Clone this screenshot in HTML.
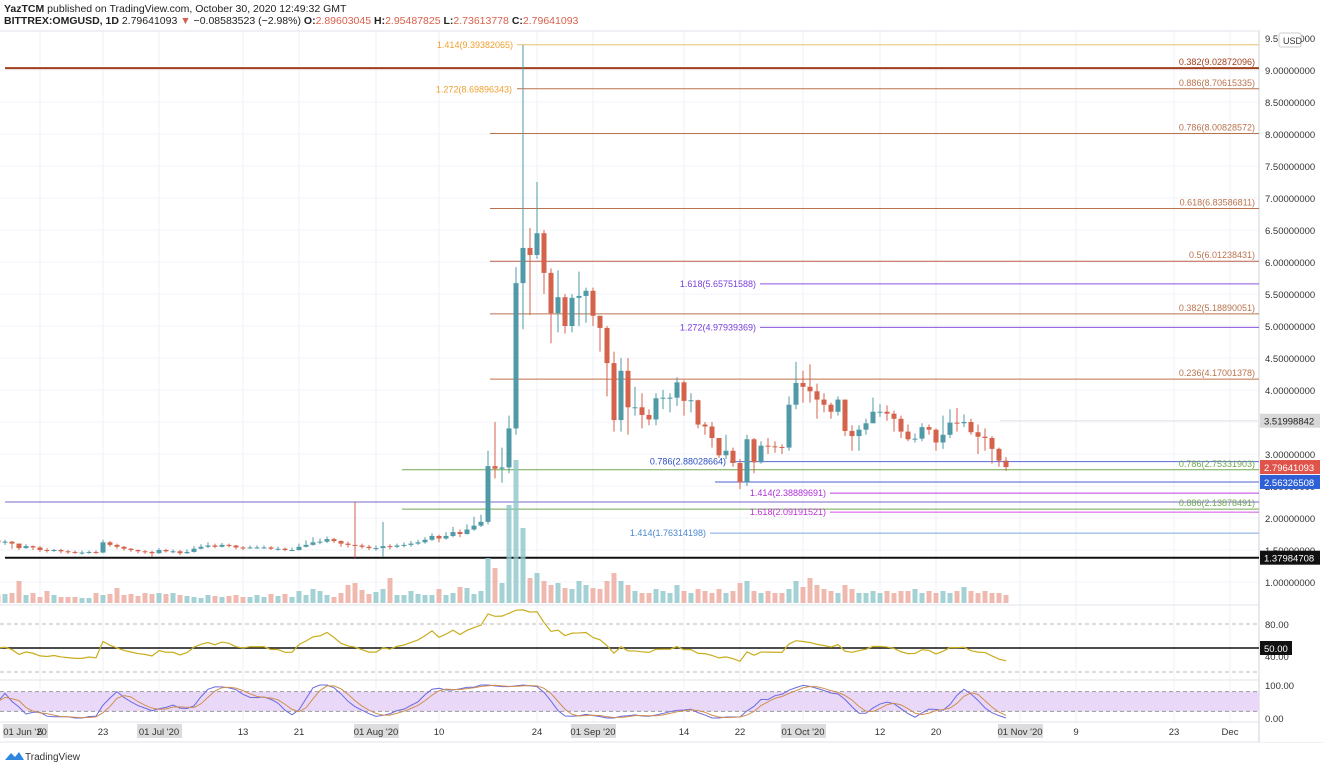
<!DOCTYPE html>
<html><head><meta charset="utf-8"><style>
html,body{margin:0;padding:0;background:#fff;}
body{width:1323px;height:768px;overflow:hidden;font-family:"Liberation Sans",sans-serif;}
svg text{font-family:"Liberation Sans",sans-serif;}
</style></head><body>
<svg id="chart" width="1323" height="768" xmlns="http://www.w3.org/2000/svg">
<rect x="0" y="0" width="1323" height="768" fill="#fff"/>
<g id="grid"></g>
<g id="fibs"></g>
<g id="vol"></g>
<g id="candles"></g>
<g id="ind"></g>
<g id="axis"></g>
<text x="4" y="12" font-size="10.5" fill="#222"><tspan font-weight="bold">YazTCM</tspan> published on TradingView.com, October 30, 2020 12:49:32 GMT</text>
<text x="4" y="24" font-size="10.5" fill="#222"><tspan font-weight="bold">BITTREX:OMGUSD, 1D</tspan> 2.79641093 <tspan fill="#d9604c">▼</tspan> −0.08583523 (−2.98%) <tspan font-weight="bold">O:</tspan><tspan fill="#d9604c">2.89603045</tspan> <tspan font-weight="bold">H:</tspan><tspan fill="#d9604c">2.95487825</tspan> <tspan font-weight="bold">L:</tspan><tspan fill="#d9604c">2.73613778</tspan> <tspan font-weight="bold">C:</tspan><tspan fill="#d9604c">2.79641093</tspan></text>
<g>
<path d="M5 760 L11 753 L15 757 L19 752 L24 760 Z" fill="#2e86de"/>
<text x="25" y="760" font-size="10" fill="#333">TradingView</text>
</g>
</svg>
<script>
const closes=[1.62,1.63,1.60,1.53,1.56,1.54,1.50,
1.49,1.50,1.48,1.47,1.46,1.46,1.47,
1.46,1.62,1.58,1.55,1.52,1.50,1.48,
1.47,1.45,1.50,1.48,1.48,1.45,1.47,
1.52,1.55,1.57,1.55,1.58,1.57,1.54,
1.53,1.54,1.54,1.54,1.52,1.52,1.50,
1.50,1.55,1.58,1.62,1.63,1.67,1.64,
1.60,1.58,1.57,1.55,1.53,1.53,1.56,
1.55,1.57,1.58,1.60,1.62,1.66,1.72,
1.68,1.72,1.78,1.75,1.82,1.88,1.94,
2.81,2.77,2.79,3.40,5.67,6.22,6.11,
6.45,5.83,5.20,5.45,5.00,5.44,5.47,
5.55,5.16,4.97,4.42,3.53,4.30,3.73,
3.73,3.61,3.54,3.87,3.88,3.88,4.12,
3.83,3.84,3.46,3.43,3.25,2.98,3.05,
2.86,2.56,3.23,2.87,3.13,3.12,3.11,
3.10,3.77,4.11,4.05,3.98,3.85,3.77,
3.66,3.85,3.36,3.28,3.38,3.48,3.66,
3.66,3.63,3.55,3.35,3.23,3.24,3.42,
3.38,3.18,3.30,3.49,3.48,3.50,3.34,
3.27,3.25,3.08,2.896,2.7964];
const highs=[1.67,1.66,1.64,1.60,1.59,1.57,1.56,
1.53,1.52,1.52,1.50,1.49,1.49,1.49,
1.49,1.66,1.64,1.60,1.56,1.53,1.51,
1.50,1.49,1.53,1.52,1.51,1.50,1.51,
1.56,1.59,1.62,1.60,1.61,1.60,1.58,
1.56,1.57,1.57,1.57,1.56,1.55,1.54,
1.54,1.60,1.65,1.70,1.68,1.71,1.69,
1.65,1.63,2.25,1.60,1.58,1.57,1.94,
1.59,1.60,1.62,1.64,1.66,1.70,1.76,
1.74,1.78,1.86,1.82,1.90,2.02,2.05,
3.05,3.50,3.10,3.60,5.92,9.39,6.53,
7.25,6.50,5.90,5.87,5.50,5.50,5.85,
5.60,5.60,5.12,5.00,4.60,4.50,4.50,
4.05,3.95,3.70,3.95,4.00,3.95,4.20,
4.15,3.95,3.85,3.50,3.50,3.25,3.30,
3.10,2.92,3.30,3.25,3.20,3.25,3.20,
3.15,3.90,4.44,4.30,4.40,4.10,3.95,
3.80,3.90,3.85,3.45,3.45,3.55,3.88,
3.78,3.76,3.68,3.60,3.46,3.32,3.48,
3.46,3.40,3.60,3.70,3.72,3.62,3.55,
3.46,3.40,3.28,3.10,2.955];
const lows=[1.58,1.58,1.52,1.50,1.52,1.50,1.47,
1.46,1.47,1.45,1.44,1.44,1.43,1.44,
1.44,1.45,1.55,1.52,1.49,1.47,1.45,
1.44,1.40,1.44,1.46,1.45,1.42,1.44,
1.46,1.51,1.53,1.53,1.54,1.54,1.51,
1.50,1.52,1.52,1.52,1.50,1.49,1.48,
1.48,1.49,1.54,1.57,1.59,1.61,1.61,
1.55,1.54,1.38,1.52,1.50,1.49,1.40,
1.51,1.53,1.54,1.55,1.58,1.60,1.64,
1.62,1.66,1.70,1.70,1.74,1.80,1.86,
1.90,2.62,2.55,2.70,3.30,4.95,5.17,
6.05,5.50,4.73,4.90,4.88,4.90,5.00,
5.05,5.00,4.60,3.90,3.35,3.35,3.30,
3.60,3.40,3.45,3.45,3.70,3.65,3.75,
3.60,3.65,3.40,3.30,3.10,2.94,2.92,
2.80,2.45,2.50,2.70,2.85,3.00,3.02,
3.00,3.05,3.70,3.80,3.80,3.55,3.65,
3.55,3.60,3.28,3.05,3.05,3.30,3.48,
3.58,3.52,3.35,3.25,3.20,3.18,3.20,
3.30,3.05,3.08,3.25,3.35,3.42,3.30,
3.00,3.05,2.85,2.80,2.736];
const volumes=[8,9,10,22,8,10,6,12,8,6,6,6,5,5,10,8,9,15,8,9,7,10,9,10,9,10,8,7,
6,5,8,7,6,7,8,6,6,8,6,9,7,9,6,12,8,14,12,8,6,10,18,20,13,9,11,14,
25,8,8,12,9,8,8,14,8,10,16,15,9,12,45,35,20,98,143,75,25,30,22,18,20,15,14,22,
18,15,14,22,30,22,18,12,10,10,14,12,10,18,12,10,14,12,10,14,10,
12,20,22,12,10,12,10,10,14,22,16,25,18,14,12,10,18,14,10,10,12,
10,12,10,12,12,14,10,12,10,12,10,12,16,12,10,12,10,10,8];
const priceTicks=[9.0,8.5,8.0,7.5,7.0,6.5,6.0,5.5,5.0,4.5,4.0,3.5,3.0,2.5,2.0,1.5,1.0];
const fibPrices=[9.39382065,9.02872096,8.70615335,8.00828572,6.83586811,6.01238431,5.65751588,5.18890051,4.97939369,4.17001378,2.88028664,2.75331903,2.56326508,2.38889691,2.25,2.13878491,2.09191521,1.76314198,1.37984708,3.51998842];
const fibLabels=["1.414(9.39382065)","0.382(9.02872096)","0.886(8.70615335)","0.786(8.00828572)","0.618(6.83586811)","0.5(6.01238431)","1.618(5.65751588)","0.382(5.18890051)","1.272(4.97939369)","0.236(4.17001378)","0.786(2.88028664)","0.786(2.75331903)","","1.414(2.38889691)","","0.886(2.13878491)","1.618(2.09191521)","1.414(1.76314198)","",""];
const dateLabels=["01 Jun '20","5","23","01 Jul '20","13","21","01 Aug '20","10","24","01 Sep '20","14","22","01 Oct '20","12","20","01 Nov '20","9","23","Dec"];
const dateIdx=[-7,6,15,23,35,43,54,63,77,85,98,106,115,126,134,146,154,168,176];

const NS="http://www.w3.org/2000/svg";
const N=closes.length, RIGHT=1259;
const xOf=i=>1006-(N-1-i)*7;
const yP=p=>70+(9-p)*64;
const yR=v=>648-(v-50)*0.8;
const yS=v=>718-v*0.33;
function mk(tag,attrs,parent,text){const e=document.createElementNS(NS,tag);for(const k in attrs)e.setAttribute(k,attrs[k]);if(text!==undefined)e.textContent=text;parent.appendChild(e);return e;}
const G=id=>document.getElementById(id);

const grid=G('grid');
priceTicks.forEach(p=>{const l=mk('line',{x1:0,x2:RIGHT,y1:yP(p),y2:yP(p),stroke:'#f0f3fa'},grid);

});
dateIdx.forEach(i=>{const x=xOf(i);if(x<0)return;const l=mk('line',{x1:x,x2:x,y1:30,y2:722,stroke:'#eef1f7'},grid);

});
mk('line',{x1:0,x2:RIGHT,y1:605,y2:605,stroke:'#e0e3eb'},grid);
mk('line',{x1:0,x2:RIGHT,y1:680,y2:680,stroke:'#e0e3eb'},grid);
mk('line',{x1:0,x2:RIGHT,y1:722,y2:722,stroke:'#e0e3eb'},grid);
mk('line',{x1:0,x2:1323,y1:742,y2:742,stroke:'#e0e3eb'},grid);
mk('line',{x1:RIGHT,x2:RIGHT,y1:30,y2:742,stroke:'#d0d3db'},grid);
mk('line',{x1:0,x2:RIGHT,y1:31,y2:31,stroke:'#e0e3eb'},grid);

const fibStyle=[[517,'#e8c170',1,'L','#f0a030'],[5,'#a0401c',2,'R','#a0401c'],[517,'#b9734f',1,'R','#b9734f'],[490,'#b9734f',1,'R','#b9734f'],[490,'#b9734f',1,'R','#b9734f'],[490,'#c0604a',1,'R','#b9734f'],[760,'#8a55e0',1,'L','#7a3fd8'],[490,'#b9734f',1,'R','#b9734f'],[760,'#8a55e0',1,'L','#7a3fd8'],[490,'#c0704a',1,'R','#b9734f'],[730,'#5a6ad8',1,'L','#2a4ec0'],[402,'#70a850',1,'R','#70a850'],[715,'#4a60d0',1,'N',''],[830,'#c040e0',1,'L','#b030d8'],[5,'#7b68c8',1,'N',''],[402,'#70a850',1,'R','#70a850'],[830,'#d050e0',1,'L','#c030d8'],[710,'#7aa8e0',1,'L','#4a88d0'],[5,'#111',2,'N',''],[1000,'#e4e4e4',1,'N','']];
const fibs=G('fibs');
fibPrices.forEach((p,k)=>{const s=fibStyle[k];const y=yP(p);
const l=mk('line',{x1:s[0],x2:RIGHT,y1:y,y2:y,stroke:s[1],'stroke-width':s[2]},fibs);


if(s[3]==='N'||!fibLabels[k])return;
let t;
if(s[3]==='R'){t=mk('text',{x:1255,y:y-3,'font-size':9,fill:s[4],'text-anchor':'end'},fibs,fibLabels[k]);}
else{t=mk('text',{x:s[0]-4,y:y+3,'font-size':9,fill:s[4],'text-anchor':'end'},fibs,fibLabels[k]);}


});
const t2=mk('text',{x:512,y:yP(8.69896343)+3,'font-size':9,fill:'#f0a030','text-anchor':'end'},fibs,'1.272(8.69896343)');



const vol=G('vol');
closes.forEach((c,i)=>{const o=i?closes[i-1]:1.65;const h=volumes[i];
const r=mk('rect',{x:xOf(i)-2.5,y:603-h,width:5,height:h,fill:c>=o?'#8cc5c9':'#eba89c','fill-opacity':0.8},vol);

});

const cg=G('candles');
closes.forEach((c,i)=>{const o=i?closes[i-1]:1.65;const up=c>=o;const col=up?'#4f9aa6':'#d5624b';const x=xOf(i);
const w=mk('line',{x1:x,x2:x,y1:yP(highs[i]),y2:yP(lows[i]),stroke:col,'stroke-width':1},cg);


const y1=yP(Math.max(o,c)),y2=yP(Math.min(o,c));
const b=mk('rect',{x:x-2.5,y:y1,width:5,height:Math.max(1,y2-y1),fill:col},cg);

});

// RSI (Wilder 14) with warm prior averages
const rsi=[50];let ag=0.02,al=0.02;
for(let i=1;i<N;i++){const d=closes[i]-closes[i-1];const g=Math.max(d,0),l=Math.max(-d,0);
ag=(ag*13+g)/14;al=(al*13+l)/14;
rsi[i]=al===0?100:100-100/(1+ag/al);}
const ind=G('ind');
mk('line',{x1:0,x2:RIGHT,y1:yR(80),y2:yR(80),stroke:'#bbb','stroke-dasharray':'4 3'},ind);
mk('line',{x1:0,x2:RIGHT,y1:yR(20),y2:yR(20),stroke:'#bbb','stroke-dasharray':'4 3'},ind);
const ml=mk('line',{x1:0,x2:RIGHT,y1:yR(50),y2:yR(50),stroke:'#111','stroke-width':1.5},ind);


const rp=mk('polyline',{points:rsi.map((v,i)=>xOf(i)+','+Math.max(607,Math.min(678,yR(v)))).join(' '),fill:'none',stroke:'#c9ad1e','stroke-width':1.2},ind);



const band=mk('rect',{x:0,y:yS(80),width:RIGHT,height:yS(20)-yS(80),fill:'#ead8f9'},ind);


mk('line',{x1:0,x2:RIGHT,y1:yS(80),y2:yS(80),stroke:'#999','stroke-dasharray':'4 3'},ind);
mk('line',{x1:0,x2:RIGHT,y1:yS(20),y2:yS(20),stroke:'#999','stroke-dasharray':'4 3'},ind);
const st=[];for(let i=0;i<N;i++){const a=rsi.slice(Math.max(0,i-13),i+1);const mn=Math.min(...a),mx=Math.max(...a);st[i]=mx===mn?50:(rsi[i]-mn)/(mx-mn)*100;}
const sm=(arr)=>arr.map((v,i)=>{const a=arr.slice(Math.max(0,i-2),i+1);return a.reduce((s,x)=>s+x,0)/a.length;});
const K=sm(st),D=sm(K);
const kp=mk('polyline',{points:K.map((v,i)=>xOf(i)+','+yS(v)).join(' '),fill:'none',stroke:'#6a6ae0','stroke-width':1},ind);


const dp=mk('polyline',{points:D.map((v,i)=>xOf(i)+','+yS(v)).join(' '),fill:'none',stroke:'#d09050','stroke-width':1},ind);



const ax=G('axis');
mk('rect',{x:RIGHT+1,y:30,width:63,height:712,fill:'#fff'},ax);
priceTicks.forEach(p=>{const t=mk('text',{x:1265,y:yP(p)+4,'font-size':9.5,fill:'#333'},ax,p.toFixed(8));

});
mk('text',{x:1265,y:42,'font-size':9.5,fill:'#333'},ax,'9.50000000');
const usd=mk('rect',{x:1279,y:33,width:22,height:14,fill:'#fff',stroke:'#ccc',rx:2},ax);


mk('text',{x:1283,y:44,'font-size':9,fill:'#333'},ax,'USD');
[[80,'80.00'],[40,'40.00']].forEach(a=>mk('text',{x:1265,y:yR(a[0])+4,'font-size':9.5,fill:'#333'},ax,a[1]));
mk('text',{x:1265,y:yS(100)+4,'font-size':9.5,fill:'#333'},ax,'100.00');
mk('text',{x:1265,y:yS(0)+4,'font-size':9.5,fill:'#333'},ax,'0.00');
const boxes=[[3.51998842,'#d8d8d8','#222','3.51998842'],[2.79641093,'#e0534a','#fff','2.79641093'],[2.56326508,'#2d5fd6','#fff','2.56326508'],[1.37984708,'#111','#fff','1.37984708']];
boxes.forEach(b=>{const y=yP(b[0]);const r=mk('rect',{x:1260,y:y-7,width:60,height:14,fill:b[1]},ax);


mk('text',{x:1264,y:y+4,'font-size':9.5,fill:b[2]},ax,b[3]);});
mk('rect',{x:1260,y:yR(50)-7,width:32,height:14,fill:'#111'},ax);
mk('text',{x:1264,y:yR(50)+4,'font-size':9.5,fill:'#fff'},ax,'50.00');
dateLabels.forEach((lab,k)=>{let x=xOf(dateIdx[k]);const boxed=lab.startsWith('01');
if(x<25)x=25;
if(boxed){const r=mk('rect',{x:x-22,y:724,width:45,height:14,fill:'#dcdcdc'},ax);

}
const t=mk('text',{x:x,y:735,'font-size':9.5,fill:'#333','text-anchor':'middle'},ax,lab);

});
</script>
</body></html>
